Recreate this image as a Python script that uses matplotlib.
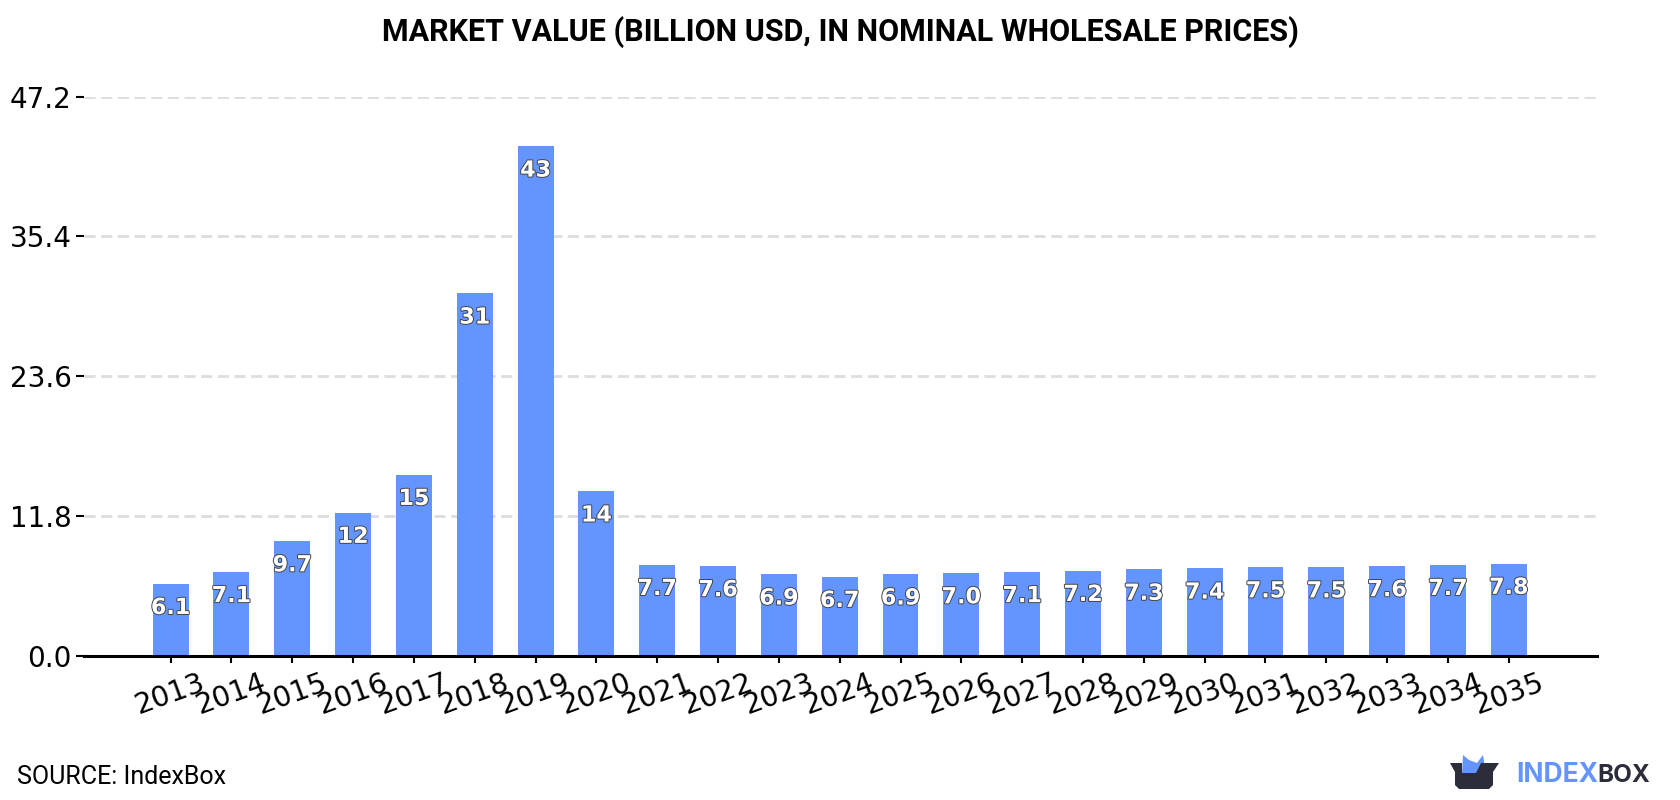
import matplotlib
matplotlib.use("Agg")
import matplotlib.pyplot as plt
import matplotlib.patheffects as pe
from matplotlib.patches import Polygon

years = [str(y) for y in range(2013, 2036)]
bar_heights = [6.1, 7.1, 9.7, 12.1, 15.3, 30.6, 43.0, 13.9, 7.7, 7.6, 6.9, 6.7, 6.9, 7.0, 7.1, 7.2, 7.3, 7.4, 7.5, 7.5, 7.6, 7.7, 7.8]
labels = ["6.1", "7.1", "9.7", "12", "15", "31", "43", "14", "7.7", "7.6", "6.9", "6.7", "6.9", "7.0", "7.1", "7.2", "7.3", "7.4", "7.5", "7.5", "7.6", "7.7", "7.8"]
y_ticks = [0.0, 11.8, 23.6, 35.4, 47.2]

BLUE = "#6495ff"
DARK = "#2b2d3a"

fig = plt.figure(figsize=(16.8, 8.0), dpi=100)
ax = fig.add_axes([84 / 1680, 1 - 656 / 800, (1597 - 84) / 1680, (656 - 96.5) / 800])

x = list(range(len(years)))
ax.bar(x, bar_heights, width=0.59, color=BLUE, zorder=3)

ax.set_xlim(-1.424, 23.45)
ax.set_ylim(0, 47.2)
ax.set_yticks(y_ticks)
ax.set_yticklabels([f"{t:.1f}" for t in y_ticks], fontsize=20, color="black")
ax.set_xticks(x)
ax.set_xticklabels(years, rotation=20, fontsize=20.5, color="black")
ax.tick_params(axis="y", length=6, width=1.5, pad=3)
ax.tick_params(axis="x", length=5, width=1.5, pad=4)
ax.grid(axis="y", color="#dddddd", linewidth=2, linestyle=(0, (4, 2)), zorder=0)
ax.set_axisbelow(True)
for side in ("top", "right", "left"):
    ax.spines[side].set_visible(False)
ax.spines["bottom"].set_linewidth(2.2)
ax.spines["bottom"].set_zorder(5)

# Value labels sit just inside the top of each bar.
for xi, h, lab in zip(x, bar_heights, labels):
    ax.annotate(lab, (xi, h), xytext=(0, -17.5), textcoords="offset points",
                ha="center", va="center", fontsize=16, fontweight="bold",
                color="white", zorder=6,
                path_effects=[pe.withStroke(linewidth=1.4, foreground="#444444")])

fig.text(0.5, 1 - 32 / 800, "MARKET VALUE (BILLION USD, IN NOMINAL WHOLESALE PRICES)",
         ha="center", va="center", fontsize=22, fontweight="bold",
         family="Roboto", color="black")
fig.text(17 / 1680, 1 - 777 / 800, "SOURCE: IndexBox", ha="left", va="center",
         fontsize=18, family="Roboto", color="black")

# Brand mark in pixel coordinates at the lower right.
logo = fig.add_axes([0, 0, 1, 1], facecolor="none")
logo.set_xlim(0, 1680)
logo.set_ylim(800, 0)
logo.axis("off")
logo.add_patch(Polygon([(1462, 773), (1463, 755), (1469, 760), (1477, 763), (1483, 755),
                       (1486, 773), (1476, 773)], closed=True, color=BLUE, lw=0))
logo.add_patch(Polygon([(1450, 763), (1462, 763), (1462, 773), (1476, 773), (1481, 763),
                       (1499, 763), (1493, 772), (1493, 785), (1489, 789), (1459, 789),
                       (1455, 785), (1455, 772)], closed=True, color=DARK, lw=0))
logo.text(1516, 775.5, "INDEX", color=BLUE, fontsize=19, fontweight="bold",
          family="Inter", ha="left", va="center")
logo.text(1597, 775.5, "BOX", color=DARK, fontsize=17.5, fontweight="bold",
          family="Inter", ha="left", va="center")

fig.savefig("out.png", dpi=100)
